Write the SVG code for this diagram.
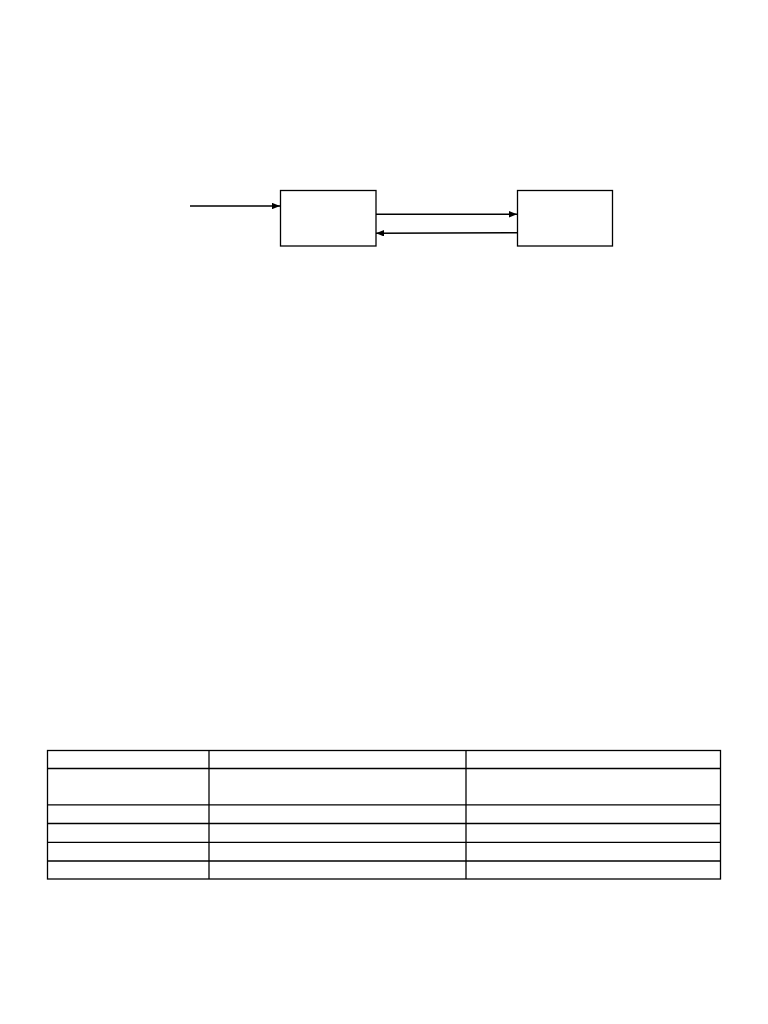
<svg xmlns="http://www.w3.org/2000/svg" width="768" height="1024" viewBox="0 0 768 1024">
<style>
.box{fill:#fff;stroke:#000;stroke-width:1.3}
.conn{fill:none;stroke:#000;stroke-width:1.5}
.tbl{fill:none;stroke:#000;stroke-width:1.3}
</style>
<defs>
<marker id="ah" viewBox="0 0 10 8" refX="10" refY="4" markerWidth="8" markerHeight="6.4" markerUnits="userSpaceOnUse" orient="auto">
<path d="M0,0 L10,4 L0,8 Z" fill="#000"/>
</marker>
</defs>
<rect width="768" height="1024" fill="#fff"/>
<g id="node-a"><rect class="box" x="280.5" y="190.5" width="95.5" height="55.5"/></g>
<g id="node-b"><rect class="box" x="517.5" y="190.5" width="95" height="55.5"/></g>
<g id="connectors">
<line class="conn" x1="190" y1="206" x2="280" y2="206" marker-end="url(#ah)"/>
<line class="conn" x1="376" y1="214.3" x2="517" y2="214.3" marker-end="url(#ah)"/>
<line class="conn" x1="517" y1="232.7" x2="376" y2="233.3" marker-end="url(#ah)"/>
</g>
<g id="table">
<rect class="tbl" x="47.5" y="750.5" width="673" height="128.5"/>
<line class="tbl" x1="47.5" y1="768.5" x2="720.5" y2="768.5"/>
<line class="tbl" x1="47.5" y1="804.8" x2="720.5" y2="804.8"/>
<line class="tbl" x1="47.5" y1="823.5" x2="720.5" y2="823.5"/>
<line class="tbl" x1="47.5" y1="842.3" x2="720.5" y2="842.3"/>
<line class="tbl" x1="47.5" y1="861" x2="720.5" y2="861"/>
<line class="tbl" x1="209" y1="750.5" x2="209" y2="879"/>
<line class="tbl" x1="466" y1="750.5" x2="466" y2="879"/>
</g>
</svg>
